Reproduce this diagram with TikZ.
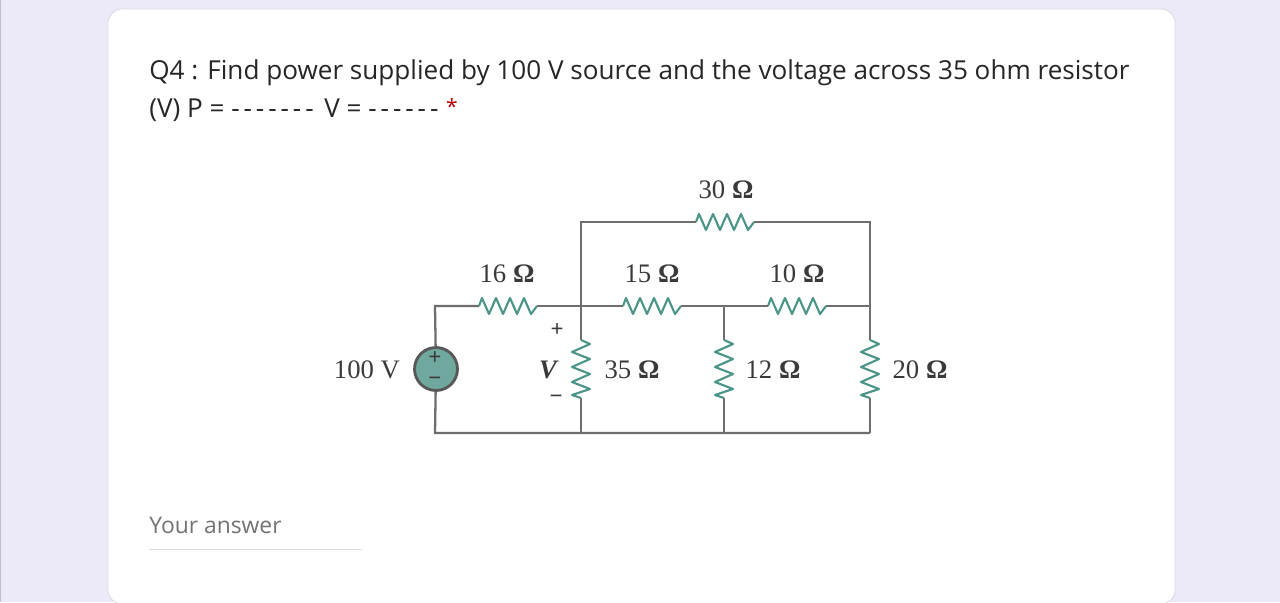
\documentclass[tikz,border=0pt]{standalone}
\usepackage{fontspec}
\setmainfont{Open Sans}
\newfontfamily\circfont{Liberation Serif}
\usetikzlibrary{calc}

\definecolor{pagebg}{HTML}{ECE9F8}
\definecolor{cardedge}{HTML}{DADCE0}
\definecolor{wirecol}{HTML}{6E6E6E}
\definecolor{rescol}{HTML}{4A9488}
\definecolor{srccol}{HTML}{6FA89F}
\definecolor{labelcol}{HTML}{3A3A3A}

\newcommand{\blankdash}{-\kern0.15em}
\newcommand{\ohmsign}{{\bfseries Ω}}

\tikzset{
	wire/.style={draw=wirecol, line width=1.3pt},
	zigzag/.style={draw=rescol, line width=1.2pt, line join=round},
	question/.style={anchor=base west, inner sep=0pt, text=black!85, font=\fontsize{14.86}{18}\selectfont},
	circlabel/.style={inner sep=0pt, text=labelcol, font=\circfont\fontsize{15.2}{17}\selectfont},
	signlabel/.style={inner sep=0pt, text=labelcol, font=\circfont\bfseries\fontsize{13}{14}\selectfont},
	hres/.pic={
		\coordinate (-a) at (-29,0);
		\coordinate (-b) at (29,0);
		\draw[zigzag] (-29,0) -- (-26,-8) -- (-19,8) -- (-12,-8) -- (-5,8) -- (2,-8) -- (9,8) -- (16,-8) -- (23,8) -- (29,0);
	},
	vres/.pic={
		\coordinate (-a) at (0,-29);
		\coordinate (-b) at (0,29);
		\draw[zigzag] (0,-29) -- (9,-25) -- (-9,-17) -- (9,-10) -- (-9,-2) -- (9,5) -- (-9,13) -- (9,20) -- (-9,26) -- (0,29);
	}
}

\begin{document}
\begin{tikzpicture}[x=0.02cm, y=-0.02cm]
	\useasboundingbox (0,0) rectangle (1280,602);

	% page and card
	\fill[pagebg] (0,0) rectangle (1280,602);
	\fill[black!18!pagebg] (0,0) rectangle (1,602);
	\draw[cardedge, fill=white, line width=0.5pt, rounded corners=0.28cm] (108,9) rectangle (1175,604);

	% question text
	\node[question] (line1) at (149,79) {Q4 : Find power supplied by 100 V source and the voltage across 35 ohm resistor};
	\node[question] (line2) at (149,117) {(V) P = \blankdash\blankdash\blankdash\blankdash\blankdash\blankdash\blankdash{} V = \blankdash\blankdash\blankdash\blankdash\blankdash\blankdash};
	\node[inner sep=0pt, text=red!75!black, font=\fontsize{12}{14}\selectfont] (star) at (452,106) {*};

	% junctions
	\coordinate (topleft) at (581,222);
	\coordinate (topright) at (870,222);
	\coordinate (midleft) at (435,306);
	\coordinate (midone) at (581,306);
	\coordinate (midtwo) at (724,306);
	\coordinate (midright) at (870,306);
	\coordinate (botleft) at (435,433);
	\coordinate (botone) at (581,433);
	\coordinate (bottwo) at (724,433);
	\coordinate (botright) at (870,433);

	% resistors
	\pic (rA) at (508,306) {hres};
	\pic (rB) at (652,306) {hres};
	\pic (rC) at (797,306) {hres};
	\pic (rD) at (725,222) {hres};
	\pic (rE) at (581,369) {vres};
	\pic (rF) at (724,369) {vres};
	\pic (rG) at (870,369) {vres};

	% source
	\node[circle, draw=labelcol!85, fill=srccol, line width=1.6pt, minimum size=0.86cm, inner sep=0pt] (src) at (436,369) {};
	\node[signlabel] (srcplus) at (435,358) {+};
	\node[signlabel] (srcminus) at (435,381) {−};

	% wires
	\draw[wire] (src) -- (midleft) -- (rA-a);
	\draw[wire] (rA-b) -- (midone) -- (rB-a);
	\draw[wire] (rB-b) -- (midtwo) -- (rC-a);
	\draw[wire] (rC-b) -- (midright);
	\draw[wire] (midone) -- (topleft) -- (rD-a);
	\draw[wire] (rD-b) -- (topright) -- (midright);
	\draw[wire] (midone) -- (rE-a);
	\draw[wire] (midtwo) -- (rF-a);
	\draw[wire] (midright) -- (rG-a);
	\draw[wire] (rE-b) -- (botone);
	\draw[wire] (rF-b) -- (bottwo);
	\draw[wire] (rG-b) -- (botright);
	\draw[wire] (src) -- (botleft) -- (botone) -- (bottwo) -- (botright);

	% values
	\node[circlabel] (lA) at (507,274) {16 \ohmsign};
	\node[circlabel] (lB) at (652,274) {15 \ohmsign};
	\node[circlabel] (lC) at (797,274) {10 \ohmsign};
	\node[circlabel] (lD) at (726,190) {30 \ohmsign};
	\node[circlabel] (lE) at (632,370) {35 \ohmsign};
	\node[circlabel] (lF) at (773,370) {12 \ohmsign};
	\node[circlabel] (lG) at (920,370) {20 \ohmsign};
	\node[circlabel] (lS) at (367,370) {100 V};

	% voltage across 35 ohm
	\node[signlabel] (vplus) at (557,330) {+};
	\node[circlabel, font=\circfont\itshape\bfseries\fontsize{15.2}{17}\selectfont] (vname) at (548,370) {V};
	\node[signlabel] (vminus) at (556,399) {−};

	% answer field
	\node[inner sep=0pt, anchor=base west, text=black!55, font=\fontsize{13}{15}\selectfont] (answer) at (149,533) {Your answer};
	\coordinate (fieldl) at (149,549);
	\coordinate (fieldr) at (362,549);
	\draw[cardedge, line width=0.5pt] (fieldl) -- (fieldr);
\end{tikzpicture}
\end{document}
